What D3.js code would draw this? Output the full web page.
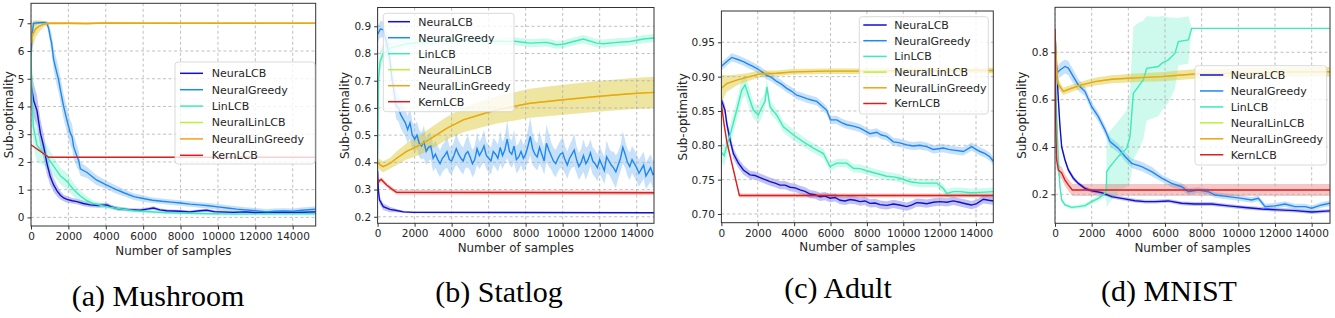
<!DOCTYPE html>
<html><head><meta charset="utf-8">
<script src="https://cdn.jsdelivr.net/npm/d3@7"></script>
<style>body{margin:0;background:#fff;} svg{display:block;}</style>
</head><body>
<svg id="c" width="1335" height="318"></svg>
<script>
const seriesNames = ["NeuraLCB","NeuralGreedy","LinLCB","NeuralLinLCB","NeuralLinGreedy","KernLCB"];
const seriesColors = ["#1010d0","#1e88f0","#3deab8","#b8f040","#f2a213","#dc1e1e"];
const xTickValues = [0,2000,4000,6000,8000,10000,12000,14000];
const captions = ["(a) Mushroom","(b) Statlog","(c) Adult","(d) MNIST"];
const mushYTicks = [0,1,2,3,4,5,6,7];
const statYTicks = [0.2,0.3,0.4,0.5,0.6,0.7,0.8,0.9];
const adultYTicks = [0.70,0.75,0.80,0.85,0.90,0.95];
const mnistYTicks = [0.2,0.4,0.6,0.8];

// each point: [samples, mean sub-optimality, band half-width]
const mushNeuraLCB = [[0,4.8,0.6],[150,4.2,0.6],[320,3.85,0.55],[500,3.05,0.5],[680,2.55,0.45],[850,1.95,0.4],[1030,1.47,0.3],[1210,1.17,0.25],[1400,0.95,0.2],[1570,0.8,0.15],[1750,0.7,0.12],[1925,0.65,0.12],[2200,0.6,0.1],[2460,0.57,0.1],[2800,0.5,0.1],[3170,0.45,0.08],[3600,0.43,0.08],[4060,0.45,0.08],[4300,0.38,0.07],[4600,0.32,0.07],[5200,0.28,0.06],[5840,0.26,0.06],[6200,0.3,0.06],[6550,0.34,0.06],[6900,0.27,0.05],[7270,0.24,0.05],[8000,0.22,0.05],[8500,0.2,0.05],[9050,0.24,0.05],[9400,0.26,0.05],[9800,0.21,0.05],[10830,0.18,0.05],[11500,0.2,0.05],[12000,0.17,0.05],[12610,0.18,0.05],[13500,0.17,0.05],[14390,0.18,0.05],[15230,0.2,0.05]];
const mushNeuralGreedy = [[0,5.8,0.6],[60,6.6,0.4],[140,7.0,0.1],[400,7.02,0.05],[700,7.03,0.05],[850,7.0,0.08],[950,6.8,0.2],[1030,6.5,0.3],[1100,6.3,0.35],[1210,5.7,0.4],[1350,5.3,0.45],[1480,4.95,0.45],[1600,4.5,0.45],[1745,4.0,0.45],[1925,3.5,0.45],[2100,3.05,0.45],[2200,2.9,0.45],[2280,2.55,0.45],[2460,2.2,0.4],[2550,2.05,0.35],[2640,1.75,0.25],[3000,1.62,0.2],[3500,1.35,0.18],[4000,1.18,0.15],[4500,1.02,0.15],[5000,0.88,0.13],[5500,0.75,0.12],[6000,0.68,0.12],[6500,0.62,0.1],[7000,0.58,0.1],[7500,0.55,0.1],[8000,0.52,0.1],[8500,0.48,0.1],[9000,0.45,0.1],[9500,0.42,0.1],[10000,0.38,0.1],[10500,0.34,0.1],[11000,0.3,0.1],[11500,0.27,0.1],[12000,0.24,0.1],[12600,0.2,0.1],[13000,0.22,0.1],[13500,0.23,0.1],[14000,0.22,0.1],[14500,0.26,0.1],[15230,0.3,0.1]];
const mushLinLCB = [[0,6.0,0.8],[60,4.2,0.8],[120,3.3,0.7],[320,2.6,0.6],[500,2.45,0.5],[850,2.2,0.4],[1210,1.85,0.35],[1570,1.5,0.3],[1925,1.3,0.3],[2280,1.0,0.25],[2640,0.77,0.2],[3000,0.6,0.15],[3350,0.5,0.1],[4060,0.38,0.08],[5500,0.24,0.06],[7270,0.17,0.05],[9050,0.14,0.05],[10830,0.12,0.05],[12610,0.13,0.05],[15230,0.13,0.05]];
const mushNeuralLinGreedy = [[0,6.3,0.6],[100,6.6,0.45],[250,6.8,0.3],[450,6.9,0.2],[700,6.97,0.1],[1000,7.0,0.05],[2000,7.0,0.04],[3000,6.99,0.03],[4000,7.01,0.03],[6000,7.0,0.03],[15230,7.0,0.03]];
const mushNeuralLinLCB = mushNeuralLinGreedy;
const mushKernLCB = [[0,2.62,0.03],[950,2.17,0.02],[15230,2.17,0.02]];

const statNeuraLCB = [[0,0.37,0.02],[40,0.3,0.02],[100,0.262,0.015],[306,0.237,0.012],[667,0.227,0.01],[1027,0.223,0.006],[1400,0.218,0.004],[1928,0.216,0.003],[15000,0.215,0.002]];
const statNeuralGreedy = [[0,0.87,0.03],[150,0.89,0.03],[306,0.888,0.03],[486,0.839,0.04],[667,0.777,0.05],[757,0.716,0.05],[847,0.679,0.05],[1000,0.61,0.05],[1125,0.6,0.05],[1250,0.575,0.05],[1375,0.56,0.05],[1500,0.545,0.05],[1625,0.52,0.05],[1750,0.545,0.06],[1875,0.5,0.05],[2000,0.485,0.05],[2125,0.5,0.05],[2250,0.47,0.05],[2375,0.46,0.05],[2500,0.475,0.06],[2625,0.44,0.05],[2750,0.455,0.05],[2875,0.46,0.05],[3000,0.415,0.05],[3125,0.43,0.05],[3250,0.41,0.05],[3375,0.395,0.05],[3500,0.415,0.05],[3625,0.425,0.05],[3750,0.44,0.06],[3875,0.41,0.05],[4000,0.405,0.05],[4125,0.425,0.05],[4250,0.45,0.06],[4375,0.43,0.05],[4500,0.415,0.05],[4625,0.405,0.05],[4750,0.43,0.05],[4875,0.44,0.06],[5000,0.42,0.05],[5125,0.395,0.05],[5250,0.41,0.05],[5375,0.45,0.06],[5500,0.425,0.05],[5625,0.44,0.05],[5750,0.46,0.06],[5875,0.425,0.05],[6000,0.415,0.05],[6125,0.405,0.05],[6250,0.44,0.05],[6375,0.43,0.05],[6500,0.415,0.05],[6625,0.455,0.06],[6750,0.425,0.05],[6875,0.445,0.05],[7000,0.485,0.07],[7125,0.44,0.05],[7250,0.43,0.05],[7375,0.46,0.06],[7500,0.41,0.05],[7625,0.42,0.05],[7750,0.44,0.05],[7875,0.415,0.05],[8000,0.43,0.05],[8125,0.46,0.06],[8250,0.495,0.07],[8375,0.45,0.06],[8500,0.43,0.05],[8625,0.42,0.05],[8750,0.455,0.06],[8875,0.43,0.05],[9000,0.405,0.05],[9125,0.47,0.07],[9250,0.445,0.06],[9375,0.425,0.05],[9500,0.405,0.05],[9625,0.395,0.05],[9750,0.415,0.05],[9875,0.43,0.05],[10000,0.435,0.06],[10125,0.41,0.05],[10250,0.39,0.05],[10375,0.415,0.05],[10500,0.43,0.05],[10625,0.445,0.06],[10750,0.41,0.05],[10875,0.385,0.05],[11000,0.4,0.05],[11125,0.425,0.06],[11250,0.395,0.06],[11375,0.41,0.05],[11500,0.435,0.05],[11625,0.405,0.05],[11750,0.395,0.05],[11875,0.38,0.05],[12000,0.41,0.05],[12125,0.39,0.05],[12250,0.37,0.05],[12375,0.42,0.06],[12500,0.405,0.05],[12625,0.39,0.05],[12750,0.38,0.06],[12875,0.365,0.06],[13000,0.39,0.05],[13125,0.415,0.05],[13250,0.455,0.06],[13375,0.43,0.05],[13500,0.4,0.05],[13625,0.385,0.05],[13750,0.41,0.05],[13875,0.395,0.05],[14000,0.38,0.05],[14125,0.36,0.05],[14250,0.375,0.05],[14375,0.39,0.05],[14500,0.35,0.05],[14625,0.365,0.05],[14750,0.38,0.05],[14875,0.355,0.05],[14950,0.36,0.05]];
const statLinLCB = [[0,0.42,0.03],[50,0.7,0.05],[130,0.77,0.04],[300,0.8,0.03],[700,0.82,0.02],[1500,0.835,0.015],[3000,0.845,0.015],[5000,0.85,0.015],[6500,0.845,0.015],[7420,0.845,0.015],[8234,0.838,0.015],[9135,0.841,0.015],[9676,0.832,0.015],[10036,0.834,0.015],[10577,0.844,0.015],[11117,0.853,0.015],[11838,0.838,0.015],[12198,0.836,0.015],[12919,0.841,0.015],[13640,0.844,0.015],[14360,0.853,0.015],[14950,0.857,0.015]];
const statNeuralLinGreedy = [[0,0.4,0.02],[150,0.39,0.02],[306,0.384,0.02],[667,0.396,0.02],[1027,0.415,0.025],[1568,0.44,0.03],[2108,0.458,0.035],[2829,0.485,0.04],[3730,0.525,0.042],[4631,0.556,0.045],[5532,0.575,0.048],[6432,0.593,0.05],[7333,0.605,0.052],[8234,0.617,0.053],[10036,0.63,0.055],[11838,0.642,0.056],[13640,0.652,0.057],[14950,0.657,0.058]];
const statNeuralLinLCB = statNeuralLinGreedy;
const statKernLCB = [[0,0.32,0.008],[100,0.333,0.008],[200,0.337,0.008],[486,0.317,0.008],[847,0.298,0.008],[1027,0.29,0.008],[14950,0.288,0.008]];

const adultNeuraLCB = [[0,0.866,0.006],[200,0.851,0.008],[293,0.832,0.008],[476,0.808,0.008],[660,0.788,0.008],[935,0.774,0.007],[1210,0.764,0.007],[1576,0.757,0.006],[1850,0.756,0.006],[2126,0.753,0.006],[2400,0.75,0.006],[2675,0.747,0.006],[2950,0.745,0.006],[3225,0.742,0.006],[3500,0.742,0.006],[3775,0.739,0.006],[4050,0.738,0.006],[4325,0.735,0.006],[4600,0.733,0.006],[4875,0.729,0.006],[5150,0.728,0.006],[5424,0.725,0.006],[5700,0.726,0.006],[5974,0.723,0.006],[6250,0.724,0.006],[6524,0.72,0.006],[6800,0.719,0.006],[7073,0.721,0.006],[7350,0.72,0.006],[7623,0.718,0.006],[7900,0.719,0.006],[8173,0.7155,0.006],[8450,0.716,0.006],[8723,0.7136,0.006],[9100,0.7125,0.006],[9456,0.7146,0.006],[9800,0.713,0.006],[10189,0.7107,0.006],[10450,0.713,0.006],[10738,0.7165,0.006],[11000,0.716,0.006],[11288,0.715,0.006],[11650,0.717,0.006],[12021,0.718,0.006],[12400,0.717,0.006],[12754,0.719,0.006],[13100,0.717,0.006],[13487,0.7146,0.006],[13750,0.713,0.006],[14037,0.715,0.006],[14404,0.7214,0.006],[14700,0.72,0.006],[14970,0.719,0.006]];
const adultNeuralGreedy = [[0,0.915,0.006],[300,0.922,0.006],[570,0.928,0.006],[900,0.925,0.006],[1210,0.922,0.006],[1500,0.918,0.006],[1760,0.9146,0.006],[2126,0.909,0.006],[2492,0.902,0.006],[2750,0.899,0.006],[3042,0.893,0.006],[3300,0.889,0.006],[3592,0.883,0.006],[3850,0.879,0.006],[4141,0.873,0.006],[4400,0.871,0.006],[4691,0.868,0.006],[4950,0.866,0.006],[5241,0.864,0.006],[5500,0.858,0.006],[5791,0.851,0.006],[6000,0.837,0.006],[6341,0.837,0.006],[6600,0.833,0.006],[6890,0.83,0.006],[7250,0.828,0.006],[7623,0.825,0.006],[7900,0.821,0.006],[8173,0.817,0.006],[8540,0.819,0.006],[8800,0.815,0.006],[9089,0.813,0.006],[9456,0.805,0.006],[9750,0.804,0.006],[10005,0.802,0.006],[10300,0.8,0.006],[10555,0.799,0.006],[10900,0.8,0.006],[11288,0.798,0.006],[11655,0.794,0.006],[12204,0.796,0.006],[12500,0.794,0.006],[12754,0.793,0.006],[13050,0.792,0.006],[13304,0.791,0.006],[13762,0.798,0.006],[14000,0.794,0.006],[14220,0.791,0.006],[14500,0.788,0.006],[14770,0.783,0.006],[14970,0.776,0.006]];
const adultLinLCB = [[0,0.79,0.015],[150,0.785,0.015],[300,0.8,0.015],[500,0.817,0.015],[843,0.851,0.015],[1118,0.88,0.015],[1300,0.888,0.015],[1484,0.873,0.015],[1760,0.851,0.012],[2034,0.844,0.012],[2126,0.85,0.015],[2400,0.864,0.012],[2500,0.885,0.012],[2675,0.856,0.01],[3042,0.844,0.008],[3408,0.827,0.008],[3958,0.815,0.008],[4508,0.805,0.007],[5058,0.796,0.007],[5607,0.788,0.007],[5974,0.769,0.007],[6341,0.774,0.006],[6890,0.774,0.006],[7257,0.7665,0.006],[7623,0.766,0.006],[7990,0.763,0.006],[8540,0.759,0.006],[9089,0.755,0.006],[9456,0.754,0.006],[9822,0.752,0.006],[10372,0.747,0.006],[10921,0.745,0.006],[11471,0.745,0.006],[11838,0.745,0.006],[12204,0.737,0.006],[12387,0.73,0.006],[12754,0.7325,0.006],[13120,0.7325,0.006],[13670,0.731,0.006],[14220,0.7315,0.006],[14970,0.7325,0.006]];
const adultNeuralLinGreedy = [[0,0.883,0.02],[293,0.89,0.012],[843,0.895,0.008],[1393,0.899,0.006],[2126,0.904,0.005],[3042,0.905,0.004],[3958,0.907,0.004],[5791,0.908,0.004],[7623,0.908,0.004],[10000,0.909,0.004],[14970,0.909,0.004]];
const adultNeuralLinLCB = adultNeuralLinGreedy;
const adultKernLCB = [[0,0.86,0.003],[150,0.83,0.003],[300,0.805,0.003],[990,0.727,0.003],[14970,0.727,0.003]];

const mnistNeuraLCB = [[0,0.88,0.02],[91,0.74,0.02],[182,0.6,0.02],[273,0.486,0.02],[364,0.4,0.015],[545,0.345,0.012],[727,0.303,0.01],[1000,0.268,0.01],[1273,0.246,0.008],[1636,0.225,0.008],[2000,0.215,0.008],[2545,0.207,0.008],[3091,0.19,0.008],[3636,0.183,0.008],[4364,0.173,0.008],[4909,0.169,0.008],[5455,0.169,0.008],[6182,0.172,0.008],[6909,0.162,0.008],[7636,0.159,0.008],[8545,0.159,0.008],[9455,0.151,0.008],[10364,0.144,0.008],[11273,0.138,0.008],[12182,0.134,0.008],[13091,0.131,0.008],[14000,0.125,0.008],[15000,0.13,0.008]];
const mnistNeuralGreedy = [[0,0.704,0.02],[273,0.725,0.03],[545,0.74,0.03],[727,0.733,0.03],[1000,0.697,0.03],[1273,0.662,0.025],[1636,0.634,0.02],[2000,0.57,0.02],[2364,0.528,0.02],[2727,0.472,0.02],[3000,0.423,0.02],[3455,0.394,0.02],[3818,0.36,0.02],[4182,0.331,0.02],[4727,0.317,0.02],[5273,0.296,0.02],[5818,0.268,0.015],[6364,0.246,0.015],[6909,0.232,0.015],[7273,0.211,0.015],[7818,0.218,0.012],[8364,0.211,0.012],[8727,0.197,0.012],[9455,0.19,0.012],[10182,0.183,0.012],[10727,0.176,0.012],[11091,0.183,0.012],[11455,0.148,0.012],[12000,0.151,0.012],[12545,0.159,0.012],[13091,0.148,0.012],[13636,0.148,0.012],[14000,0.141,0.012],[14545,0.155,0.012],[15000,0.162,0.012]];
const mnistLinLCB = [[0,0.88,0.02],[60,0.6,0.02],[182,0.345,0.02],[273,0.232,0.015],[364,0.176,0.01],[545,0.155,0.008],[909,0.145,0.008],[1273,0.148,0.008],[1636,0.152,0.01],[2000,0.169,0.01],[2364,0.183,0.012],[2727,0.204,0.015],[2800,0.22,0.05],[2818,0.296,0.15],[3000,0.317,0.15],[3455,0.36,0.15],[3909,0.394,0.16],[4091,0.444,0.2],[4273,0.627,0.28],[4545,0.655,0.27],[4818,0.683,0.25],[5000,0.732,0.22],[5636,0.74,0.21],[5818,0.753,0.2],[6182,0.768,0.18],[6545,0.796,0.15],[6727,0.845,0.1],[7273,0.852,0.1],[7455,0.901,0],[15000,0.901,0]];
const mnistNeuralLinGreedy = [[0,0.88,0.03],[90,0.72,0.03],[182,0.665,0.02],[455,0.635,0.015],[909,0.648,0.015],[1455,0.662,0.015],[2182,0.676,0.016],[3091,0.686,0.017],[4000,0.69,0.018],[4909,0.694,0.018],[5818,0.697,0.019],[6727,0.703,0.02],[7636,0.708,0.02],[9455,0.711,0.02],[11273,0.714,0.02],[13091,0.717,0.02],[15000,0.718,0.02]];
const mnistNeuralLinLCB = mnistNeuralLinGreedy;
const mnistKernLCB = [[0,0.9,0.03],[40,0.5,0.03],[90,0.345,0.03],[182,0.303,0.025],[364,0.29,0.025],[545,0.26,0.025],[727,0.24,0.025],[945,0.218,0.025],[15000,0.218,0.025]];

const panels = [
  {box:{l:31,r:315.7,t:3.3,b:226}, xMax:15230, yDom:[-0.31,7.72], yTicks:mushYTicks, fmt:d3.format("d"),
   series:[mushNeuraLCB,mushNeuralGreedy,mushLinLCB,mushNeuralLinLCB,mushNeuralLinGreedy,mushKernLCB],
   legend:{x:175,y:62,w:140,h:102,row0:73.3,dy:16.4,lx0:180,lx1:203,tx:211.7}, ylabX:9, capX:158, capY:306},
  {box:{l:377.6,r:654,t:7.5,b:223.3}, xMax:14935, yDom:[0.176,0.969], yTicks:statYTicks, fmt:d3.format(".1f"),
   series:[statNeuraLCB,statNeuralGreedy,statLinLCB,statNeuralLinLCB,statNeuralLinGreedy,statKernLCB],
   legend:{x:383.3,y:13.3,w:130.7,h:98.4,row0:21.7,dy:16,lx0:388,lx1:410,tx:418.3}, ylabX:345, capX:499, capY:302},
  {box:{l:721.4,r:993.3,t:11,b:222.7}, xMax:14951, yDom:[0.6873,0.9956], yTicks:adultYTicks, fmt:d3.format(".2f"),
   series:[adultNeuraLCB,adultNeuralGreedy,adultLinLCB,adultNeuralLinLCB,adultNeuralLinGreedy,adultKernLCB],
   legend:{x:859.3,y:16.7,w:129,h:97.3,row0:25,dy:15.7,lx0:863.3,lx1:886.7,tx:894.3}, ylabX:683, capX:838, capY:298},
  {box:{l:1055,r:1330,t:7.3,b:223.3}, xMax:14998, yDom:[0.0775,0.99], yTicks:mnistYTicks, fmt:d3.format(".1f"),
   series:[mnistNeuraLCB,mnistNeuralGreedy,mnistLinLCB,mnistNeuralLinLCB,mnistNeuralLinGreedy,mnistKernLCB],
   legend:{x:1195,y:65.7,w:131.7,h:99.3,row0:75,dy:15.95,lx0:1200,lx1:1223.3,tx:1230.7}, ylabX:1022, capX:1169, capY:301}
];

const svg = d3.select("#c");
svg.append("rect").attr("width",1335).attr("height",318).attr("fill","#fff");
const FONT = "DejaVu Sans, sans-serif";

panels.forEach((p, pi) => {
  const b = p.box;
  const x = d3.scaleLinear().domain([0, p.xMax]).range([b.l, b.r]);
  const y = d3.scaleLinear().domain(p.yDom).range([b.b, b.t]);
  const g = svg.append("g");
  const clipId = "clip" + pi;
  svg.append("defs").append("clipPath").attr("id", clipId)
    .append("rect").attr("x", b.l).attr("y", b.t).attr("width", b.r - b.l).attr("height", b.b - b.t);

  const plot = g.append("g").attr("clip-path", `url(#${clipId})`);
  const area = d3.area().x(d => x(d[0])).y0(d => y(d[1] - d[2])).y1(d => y(d[1] + d[2]));
  const line = d3.line().x(d => x(d[0])).y(d => y(d[1]));

  p.series.forEach((s, i) => {
    plot.append("path").attr("d", area(s)).attr("fill", seriesColors[i]).attr("fill-opacity", 0.25).attr("stroke","none");
  });
  const grid = plot.append("g");
  xTickValues.forEach(v => grid.append("line").attr("x1", x(v)).attr("x2", x(v)).attr("y1", b.t).attr("y2", b.b));
  p.yTicks.forEach(v => grid.append("line").attr("x1", b.l).attr("x2", b.r).attr("y1", y(v)).attr("y2", y(v)));
  grid.selectAll("line").attr("stroke", "#b0b0b0").attr("stroke-width", 0.8).attr("stroke-dasharray", "3,2.5");

  p.series.forEach((s, i) => {
    plot.append("path").attr("d", line(s)).attr("fill", "none").attr("stroke", seriesColors[i]).attr("stroke-width", 1.4);
  });

  g.append("rect").attr("x", b.l).attr("y", b.t).attr("width", b.r - b.l).attr("height", b.b - b.t)
    .attr("fill", "none").attr("stroke", "#333").attr("stroke-width", 1);

  const xa = g.append("g").attr("transform", `translate(0,${b.b})`)
    .call(d3.axisBottom(x).tickValues(xTickValues).tickFormat(d3.format("d")).tickSize(3.5).tickPadding(3));
  const ya = g.append("g").attr("transform", `translate(${b.l},0)`)
    .call(d3.axisLeft(y).tickValues(p.yTicks).tickFormat(p.fmt).tickSize(3.5).tickPadding(3));
  [xa, ya].forEach(a => {
    a.select(".domain").remove();
    a.selectAll("line").attr("stroke", "#333");
    a.selectAll("text").attr("font-family", FONT).attr("font-size", 10.5).attr("fill", "#262626");
  });

  g.append("text").attr("x", (b.l + b.r) / 2).attr("y", b.b + 28.5).attr("text-anchor", "middle")
    .attr("font-family", FONT).attr("font-size", 11.9).attr("fill", "#262626").text("Number of samples");
  g.append("text").attr("transform", `translate(${p.ylabX + 4},${(b.t + b.b) / 2}) rotate(-90)`)
    .attr("text-anchor", "middle").attr("font-family", FONT).attr("font-size", 11.9).attr("fill", "#262626").text("Sub-optimality");

  const L = p.legend;
  const lg = g.append("g");
  lg.append("rect").attr("x", L.x).attr("y", L.y).attr("width", L.w).attr("height", L.h).attr("rx", 3)
    .attr("fill", "#fff").attr("fill-opacity", 0.8).attr("stroke", "#d0d0d0").attr("stroke-width", 0.8);
  seriesNames.forEach((n, i) => {
    const yy = L.row0 + i * L.dy;
    lg.append("line").attr("x1", L.lx0).attr("x2", L.lx1).attr("y1", yy).attr("y2", yy)
      .attr("stroke", seriesColors[i]).attr("stroke-width", 1.5);
    lg.append("text").attr("x", L.tx).attr("y", yy).attr("dy", "0.36em").attr("font-family", FONT)
      .attr("font-size", 11).attr("fill", "#262626").text(n);
  });

  svg.append("text").attr("x", p.capX).attr("y", p.capY).attr("text-anchor", "middle")
    .attr("font-family", "Liberation Serif, serif").attr("font-size", 30).attr("fill", "#000").text(captions[pi]);
});
</script>
</body></html>
